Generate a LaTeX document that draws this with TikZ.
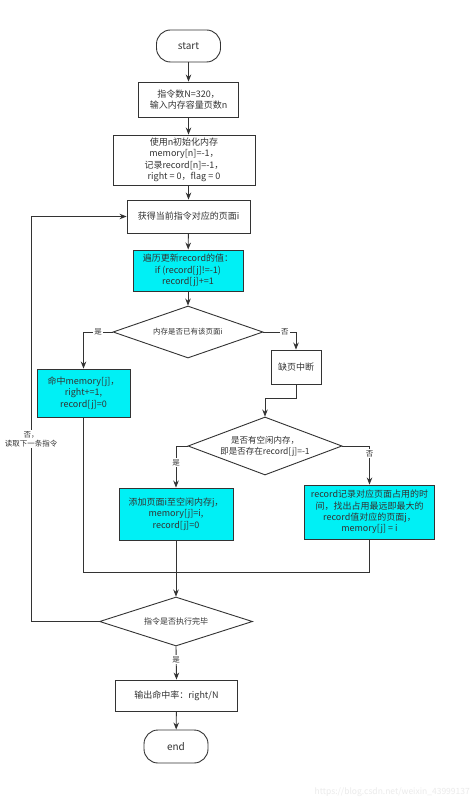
\documentclass[tikz,border=0pt]{standalone}
\usepackage{fontspec}
\setmainfont{Noto Sans CJK SC}
\usetikzlibrary{shapes.geometric,arrows.meta}
\definecolor{ln}{HTML}{333333}
\definecolor{cy}{HTML}{00F0F5}
\begin{document}
\begin{tikzpicture}[x=1pt,y=-1pt,
  base/.style={draw=ln,line width=0.9pt,text=ln,align=center,inner sep=1pt,font=\fontsize{9}{11.4}\selectfont},
  pbox/.style={base,rectangle,fill=white},
  cbox/.style={base,rectangle,fill=cy},
  rbox/.style={base,rectangle,rounded corners=14pt,fill=white,font=\fontsize{10}{12}\selectfont},
  dia/.style={draw=ln,line width=0.9pt,diamond,inner sep=0pt,fill=white},
  dtext/.style={text=ln,align=center},
  line/.style={draw=ln,line width=0.9pt},
  arr/.style={line,-{Stealth[length=7pt,width=5.5pt]}},
  lbl/.style={fill=white,text=ln,inner sep=1pt,font=\fontsize{7.5}{9}\selectfont,align=center}]
\useasboundingbox (0,0) rectangle (474,802);
\fill[white] (0,0) rectangle (474,802);

\node[rbox,minimum width=64,minimum height=32] (start) at (188.5,46) {start};
\node[pbox,minimum width=100,minimum height=35] (b2) at (188.5,99.5) {指令数N=320，\\输入内存容量页数n};
\node[pbox,minimum width=142,minimum height=50] (b3) at (184,160) {使用n初始化内存\\memory[n]=-1，\\记录record[n]=-1，\\right = 0，flag = 0};
\node[pbox,minimum width=123,minimum height=33] (b4) at (188.5,216.5) {获得当前指令对应的页面i};
\node[cbox,minimum width=110,minimum height=41] (b5) at (188,270.5) {遍历更新record的值：\\if (record[j]!=-1)\\record[j]+=1};
\node[dia,minimum width=150,minimum height=52,
  label={[dtext,font=\fontsize{7.5}{9}\selectfont]center:内存是否已有该页面i}] (d1) at (188,332) {};
\node[cbox,minimum width=93,minimum height=48] (hit) at (83.5,393) {命中memory[j]，\\right+=1,\\record[j]=0};
\node[pbox,minimum width=50,minimum height=34] (miss) at (296,367) {缺页中断};
\node[dia,minimum width=154,minimum height=58,
  label={[dtext,font=\fontsize{8.5}{11}\selectfont]center:是否有空闲内存，\\即是否存在record[j]=-1}] (d2) at (265,446) {};
\node[cbox,minimum width=114,minimum height=52] (add) at (176,514) {添加页面i至空闲内存j，\\memory[j]=i,\\record[j]=0};
\node[cbox,minimum width=130,minimum height=54] (rec) at (369.5,512) {record记录对应页面占用的时\\间，找出占用最远即最大的\\record值对应的页面j，\\memory[j] = i};
\coordinate (m) at (176,572);
\node[dia,minimum width=153,minimum height=49,
  label={[dtext,font=\fontsize{8}{10}\selectfont]center:指令是否执行完毕}] (d3) at (176,621.5) {};
\node[pbox,minimum width=122,minimum height=31] (out) at (176.5,695.5) {输出命中率：right/N};
\node[rbox,minimum width=64,minimum height=33] (end) at (176,746.5) {end};

\draw[arr] (start) -- (b2);
\draw[arr] (b2.south) -- (b2.south |- b3.north);
\draw[arr] (b4.north |- b3.south) -- (b4.north);
\draw[arr] (b4) -- (b5);
\draw[arr] (b5) -- (d1);
\draw[arr] (d1.west) -| node[lbl,pos=0.25]{是} (hit.north);
\draw[arr] (d1.east) -| node[lbl,pos=0.33]{否} (miss.north);
\draw[arr] (miss.south) -- ++(0,14) -| (d2.north);
\draw[arr] (d2.west) -| node[lbl,pos=0.7]{是} (add.north);
\draw[arr] (d2.east) -| node[lbl,pos=0.6]{否} (rec.north);
\draw[line] (hit.south) |- (m);
\draw[line] (rec.south) |- (m);
\draw[arr] (add.south) -- (d3.north);
\draw[arr] (d3.south) -- node[lbl,pos=0.4]{是} (out.north);
\draw[arr] (out) -- (end);
\draw[arr] (d3.west) -- ++(-68,0) |- node[lbl,pos=0.225]{否，\\读取下一条指令} (b4.west);

\node[text=black!8,font=\fontsize{8.5}{10}\selectfont,anchor=east,inner sep=0pt] (wm) at (470,792) {https://blog.csdn.net/weixin\_43999137};
\end{tikzpicture}
\end{document}
